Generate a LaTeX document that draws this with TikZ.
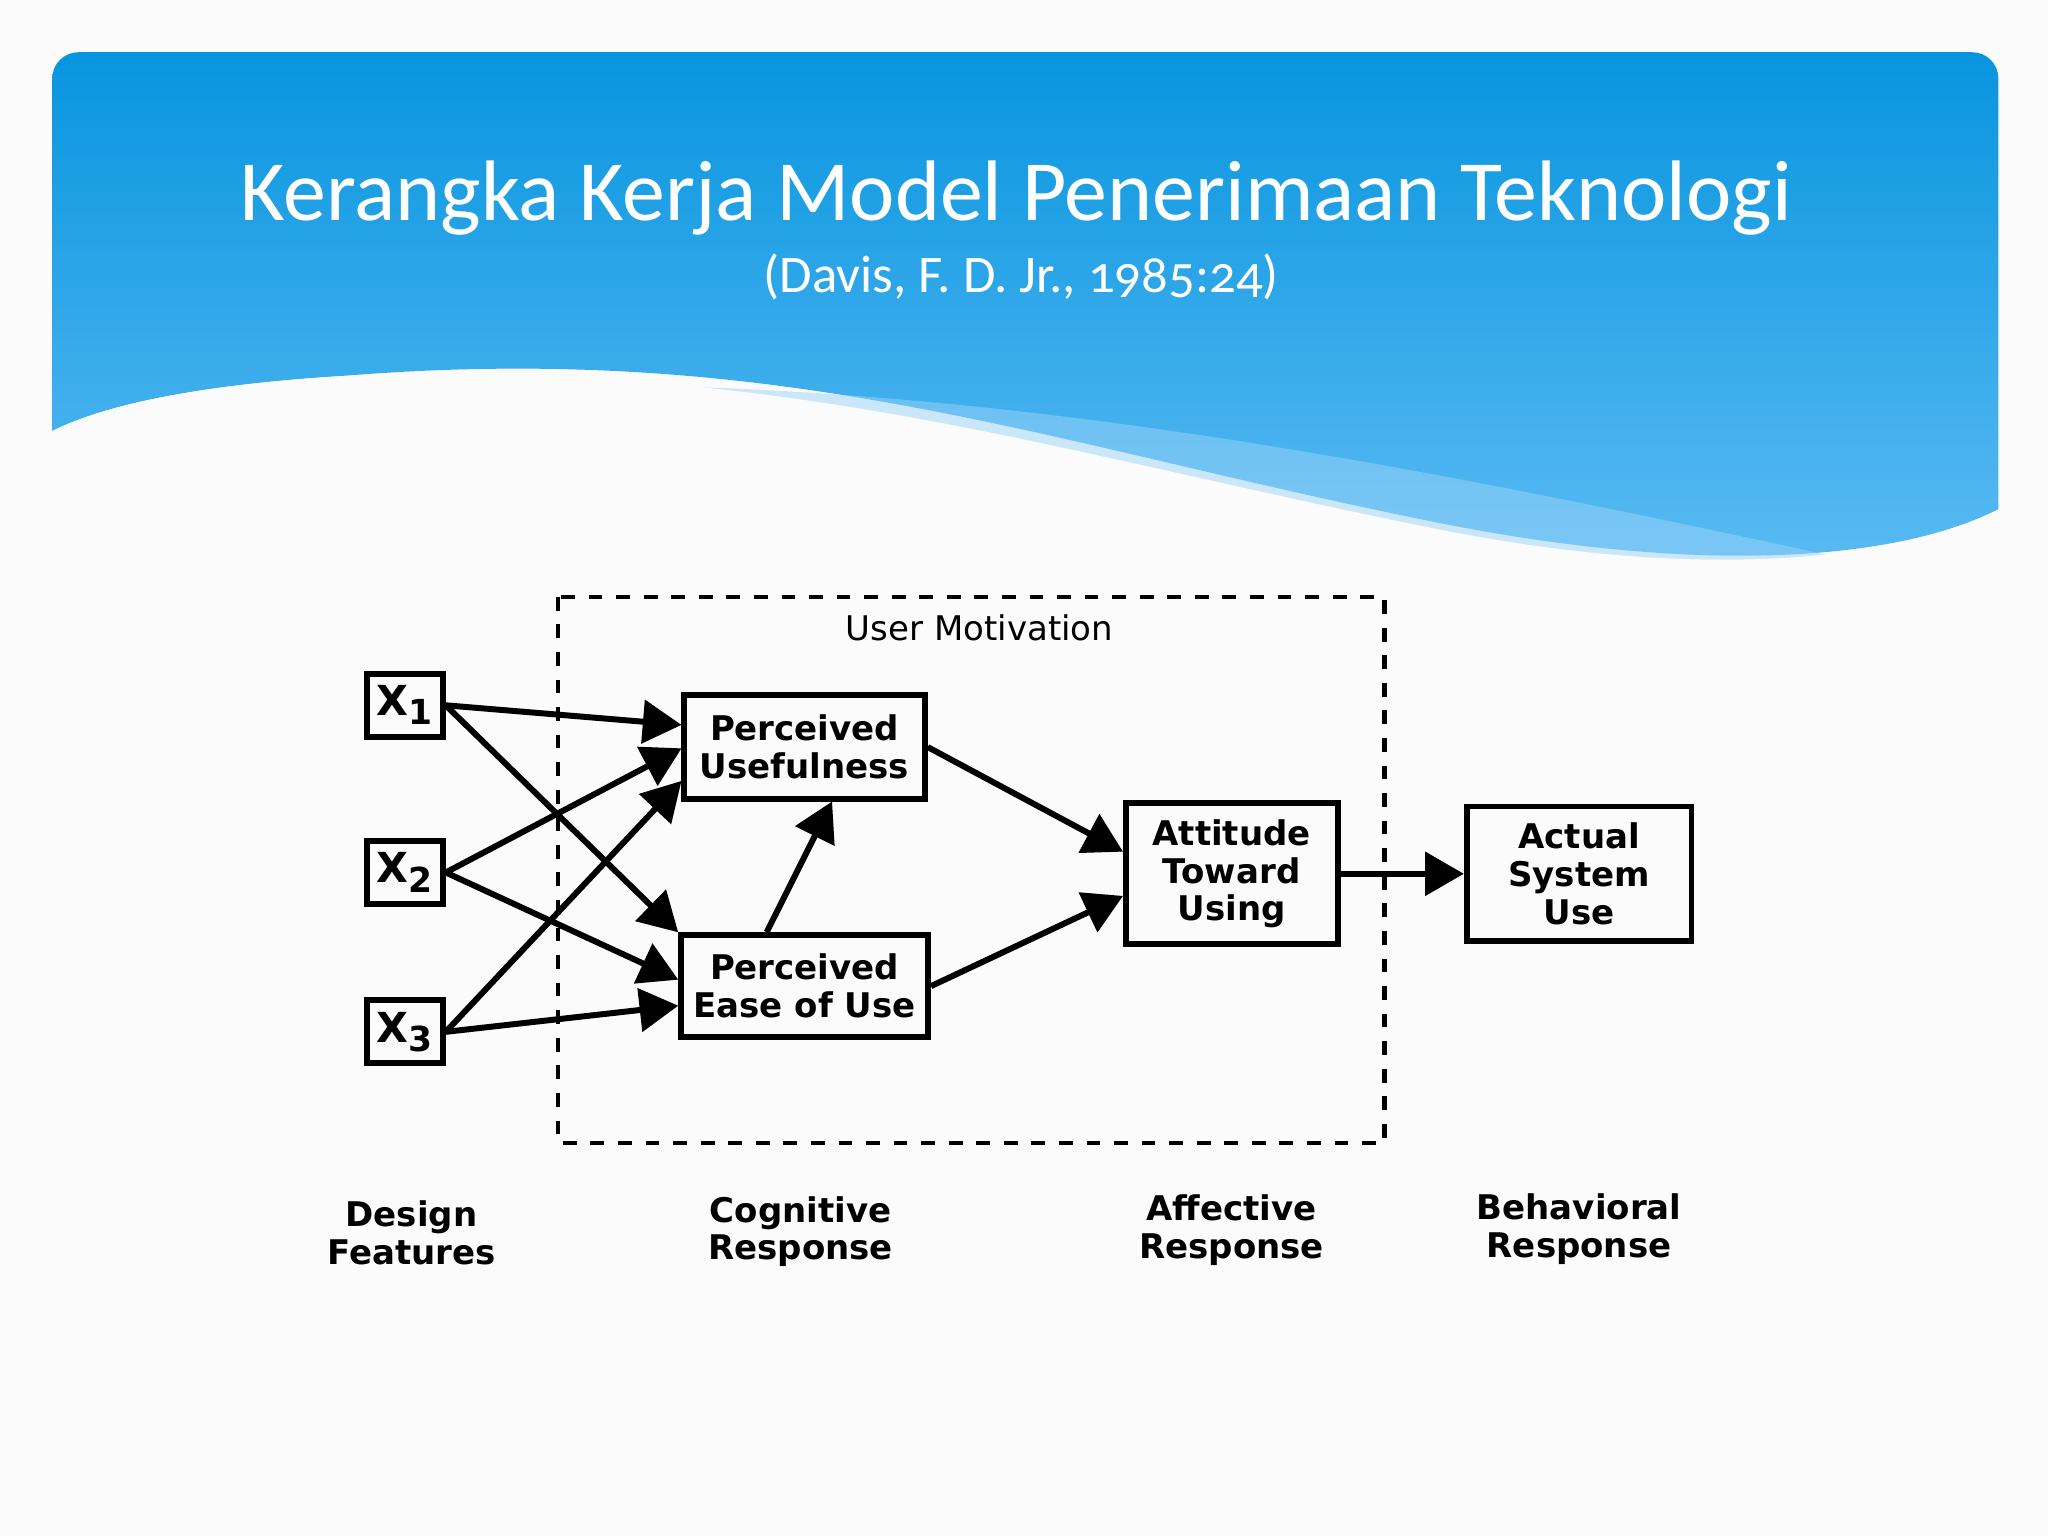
\documentclass[tikz,border=0pt]{standalone}
\usepackage{fontspec}
\setmainfont{Carlito}
\newfontfamily\boxfont{DejaVu Sans}
\usetikzlibrary{arrows}
\definecolor{bannertop}{HTML}{0895DF}
\definecolor{bannerbot}{HTML}{5BBBF3}
\definecolor{wavelight}{HTML}{9BD4F8}
\newcommand{\xsub}[1]{X\raisebox{-2pt}{\fontsize{7.5}{8}\selectfont #1}}
\begin{document}
\begin{tikzpicture}[x=0.01cm,y=-0.01cm]
\tikzstyle{factor} = [draw, line width=1.3pt, minimum width=0.58cm, minimum height=0.48cm, inner sep=1pt, font=\boxfont\bfseries\fontsize{9}{10}\selectfont]
\tikzstyle{construct} = [draw, line width=1.3pt, align=center, inner sep=2pt, font=\boxfont\bfseries\fontsize{7.4}{8.2}\selectfont]
\tikzstyle{caption} = [align=center, font=\boxfont\bfseries\fontsize{7.4}{8.2}\selectfont]

\useasboundingbox (0,0) rectangle (1568,1176);
\fill[white!97!gray] (0,0) rectangle (1568,1176);
% banner
\shade[top color=bannertop, bottom color=bannerbot]
  (40,60) arc (180:270:20) -- (1510,40) arc (270:360:20) -- (1530,390)
  .. controls (1450,430) and (1300,440) .. (1100,400)
  .. controls (800,340) and (600,260) .. (260,288)
  .. controls (150,295) and (80,310) .. (40,330) -- cycle;
\fill[wavelight, opacity=0.5] (480,295) .. controls (800,300) and (1100,360) .. (1400,425)
  .. controls (1250,440) and (1050,420) .. (900,380) .. controls (750,340) and (620,305) .. (480,295) -- cycle;
\fill[white!97!gray] (40,330) .. controls (80,310) and (150,295) .. (260,288)
  .. controls (600,275) and (800,345) .. (1100,405)
  .. controls (1300,445) and (1450,430) .. (1530,390) -- (1530,1176) -- (40,1176) -- cycle;
\node[text=white, font=\fontsize{18.7}{20}\selectfont] (title) at (778,152) {Kerangka Kerja Model Penerimaan Teknologi};
\node[text=white, font=\fontsize{11.5}{13}\selectfont] (source) at (782,212) {\addfontfeatures{Numbers=OldStyle}(Davis, F. D. Jr., 1985:24)};

% diagram
\draw[dashed, line width=0.9pt] (427,457) rectangle (1060,875);
\node[font=\boxfont\fontsize{7.4}{8}\selectfont] (um) at (750,481) {User Motivation};

\node[factor] (x1) at (310,540) {\xsub{1}};
\node[factor] (x2) at (310,668) {\xsub{2}};
\node[factor] (x3) at (310,790) {\xsub{3}};
\node[construct, minimum width=1.84cm, minimum height=0.79cm] (pu) at (616,572) {Perceived\\Usefulness};
\node[construct, minimum width=1.89cm, minimum height=0.78cm] (peu) at (616,755) {Perceived\\Ease of Use};
\node[construct, minimum width=1.62cm, minimum height=1.08cm] (atu) at (943,669) {Attitude\\Toward\\Using};
\node[construct, minimum width=1.72cm, minimum height=1.03cm] (asu) at (1209,669) {Actual\\System\\Use};

\node[caption] (df) at (315,944) {Design\\Features};
\node[caption] (cr) at (613,943) {Cognitive\\Response};
\node[caption] (ar) at (943,942) {Affective\\Response};
\node[caption] (br) at (1209,941) {Behavioral\\Response};

\tikzstyle{link} = [-triangle 60, line width=1.3pt]
\draw[link] (x1.east) -- (pu.west |- 0,555);
\draw[link] (x1.east) -- (peu.north west);
\draw[link] (x2.east) -- (pu.west |- 0,573);
\draw[link] (x2.east) -- (peu.west |- 0,750);
\draw[link] (x3.east) -- (pu.west |- 0,598);
\draw[link] (x3.east) -- (peu.west |- 0,770);
\draw[link] (peu.north -| 587,0) -- (pu.south -| 637,0);
\draw[link] (pu.east) -- (atu.west |- 0,652);
\draw[link] (peu.east) -- (atu.west |- 0,686);
\draw[link] (atu.east) -- (asu.west);
\end{tikzpicture}
\end{document}
